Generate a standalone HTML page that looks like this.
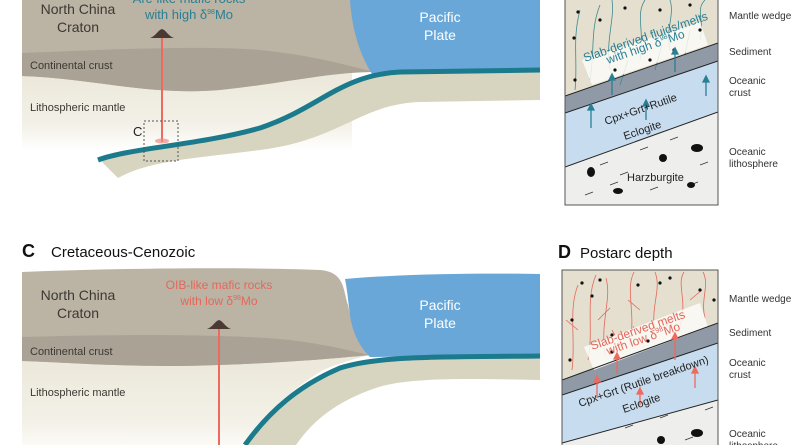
<!DOCTYPE html>
<html><head><meta charset="utf-8"><style>
html,body{margin:0;padding:0;background:#fff;}
svg{display:block;font-family:"Liberation Sans",Arial,sans-serif;}
</style></head><body>
<svg width="800" height="445" viewBox="0 0 800 445" xmlns="http://www.w3.org/2000/svg">
<defs>
<linearGradient id="lm" x1="0" y1="0" x2="0" y2="1">
<stop offset="0" stop-color="#ebe7d9"/><stop offset="0.7" stop-color="#f3f1e8"/><stop offset="1" stop-color="#fff"/>
</linearGradient>
<linearGradient id="lm2" gradientUnits="userSpaceOnUse" x1="0" y1="355" x2="0" y2="445">
<stop offset="0" stop-color="#ebe7d9"/><stop offset="0.75" stop-color="#f3f1e8"/><stop offset="1" stop-color="#fbfaf6"/>
</linearGradient>
<clipPath id="cb"><rect x="565" y="0" width="153" height="205"/></clipPath>
<clipPath id="cd"><rect x="562" y="270" width="156" height="175"/></clipPath>
</defs>

<!-- ===== TOP LEFT PANEL ===== -->
<rect x="22" y="70" width="330" height="80" fill="url(#lm)"/>
<path d="M22,0 L360,0 C355,30 365,55 375,72 C330,70 280,82 220,90 C150,96 90,78 22,76 Z" fill="#bbb3a3"/>
<path d="M22,53 C100,50 200,45 260,50 C320,56 355,68 375,72 C330,72 280,84 220,90 C150,96 90,78 22,76 Z" fill="#aaa294"/>
<path d="M350,0 L540,0 L540,72 L372,74 C360,55 352,30 350,0 Z" fill="#68a7d8"/>
<path d="M98,158 C130,148 200,145 260,128 C320,108 340,75 400,72 L540,70 L540,100 L420,102 C360,104 340,140 260,150 C200,158 150,160 118,178 Z" fill="#d7d4bf"/>
<path d="M98,160 C130,148 200,145 260,128 C320,108 340,75 400,72 L540,70" fill="none" stroke="#1b7a8b" stroke-width="5"/>
<line x1="162" y1="38" x2="162" y2="142" stroke="#ee6a5e" stroke-width="2"/>
<ellipse cx="162" cy="141" rx="7" ry="2.5" fill="#f08a80" opacity="0.7"/>
<path d="M150,38 C156,36 158,30 162,29 C166,30 168,36 174,38 Z" fill="#4a3a33"/>
<rect x="144" y="121" width="34" height="40" fill="none" stroke="#555" stroke-dasharray="2,2" stroke-width="1"/>
<text x="133" y="136" font-size="13" fill="#222">C</text>
<text x="78" y="14" font-size="14" fill="#3c3833" text-anchor="middle">North China</text>
<text x="78" y="32" font-size="14" fill="#3c3833" text-anchor="middle">Craton</text>
<text x="189" y="3" font-size="13" fill="#2a7f94" text-anchor="middle">Arc-like mafic rocks</text>
<text x="189" y="19" font-size="13" fill="#2a7f94" text-anchor="middle">with high δ<tspan font-size="7" dy="-5">98</tspan><tspan dy="5">Mo</tspan></text>
<text x="440" y="22" font-size="14" fill="#fff" text-anchor="middle">Pacific</text>
<text x="440" y="40" font-size="14" fill="#fff" text-anchor="middle">Plate</text>
<text x="30" y="69" font-size="11" fill="#3c3833">Continental crust</text>
<text x="30" y="111" font-size="11" fill="#3c3833">Lithospheric mantle</text>

<!-- ===== TOP RIGHT PANEL (B) ===== -->
<g clip-path="url(#cb)">
<rect x="565" y="0" width="153" height="205" fill="#eeeeec"/>
<polygon points="565,0 718,0 718,43 565,96" fill="#e4dfcf"/>
<polygon points="565,96 718,43 718,61 565,113" fill="#8f9aa6"/>
<polygon points="565,113 718,61 718,112 565,167" fill="#c8dcef"/>
<g stroke="#3f8a8f" stroke-width="0.8" fill="none">
<path d="M575,90 C578,60 572,40 580,10 M590,80 C595,50 590,30 600,5 M610,70 C605,40 615,20 612,0 M640,60 C645,30 635,15 645,0 M670,50 C665,30 675,15 670,0 M700,40 C705,20 695,10 705,0 M620,85 L628,60 M655,70 L662,45 M685,55 L690,30"/>
</g>
<polygon points="582,60 700,22 708,45 592,85" fill="#fbfbf7" opacity="0.85"/>
<g fill="#111"><circle cx="578" cy="12" r="1.6"/><circle cx="600" cy="20" r="1.6"/><circle cx="574" cy="38" r="1.6"/><circle cx="625" cy="8" r="1.6"/><circle cx="660" cy="10" r="1.6"/><circle cx="690" cy="5" r="1.6"/><circle cx="575" cy="80" r="1.6"/><circle cx="615" cy="70" r="1.6"/><circle cx="650" cy="60" r="1.6"/><circle cx="674" cy="50" r="1.6"/><circle cx="700" cy="30" r="1.6"/></g>
<g stroke="#222" stroke-width="1" fill="none"><line x1="565" y1="96" x2="718" y2="43"/><line x1="565" y1="113" x2="718" y2="61"/><line x1="565" y1="167" x2="718" y2="112"/></g>
<g stroke="#333" stroke-width="0.7"><line x1="600" y1="165" x2="608" y2="162"/><line x1="640" y1="150" x2="648" y2="147"/><line x1="670" y1="140" x2="678" y2="137"/><line x1="700" y1="165" x2="708" y2="162"/><line x1="610" y1="185" x2="618" y2="182"/><line x1="650" y1="190" x2="658" y2="187"/><line x1="585" y1="195" x2="593" y2="192"/><line x1="690" y1="185" x2="698" y2="182"/><line x1="620" y1="175" x2="628" y2="172"/></g>
<g fill="#111"><ellipse cx="591" cy="172" rx="4" ry="5"/><ellipse cx="663" cy="158" rx="4" ry="4"/><ellipse cx="697" cy="148" rx="6" ry="4"/><ellipse cx="618" cy="191" rx="5" ry="3"/><ellipse cx="691" cy="185" rx="4" ry="3"/></g>
<g stroke="#2a7f94" stroke-width="1.3" fill="#2a7f94">
<line x1="591" y1="128" x2="591" y2="108"/><polygon points="588,110 594,110 591,104"/>
<line x1="612" y1="95" x2="612" y2="78"/><polygon points="609,80 615,80 612,74"/>
<line x1="646" y1="120" x2="646" y2="104"/><polygon points="643,106 649,106 646,100"/>
<line x1="675" y1="72" x2="675" y2="52"/><polygon points="672,54 678,54 675,48"/>
<line x1="706" y1="96" x2="706" y2="80"/><polygon points="703,82 709,82 706,76"/>
</g>
</g>
<rect x="565" y="-1" width="153" height="206" fill="none" stroke="#555" stroke-width="1"/>
<text transform="translate(585,62) rotate(-19)" font-size="12" fill="#2a7f94">Slab-derived fluids/melts</text>
<text transform="translate(608,64) rotate(-19)" font-size="12" fill="#2a7f94">with high δ<tspan font-size="7" dy="-5">98</tspan><tspan dy="5">Mo</tspan></text>
<text transform="translate(606,125) rotate(-19)" font-size="11" fill="#222">Cpx+Grt+Rutile</text>
<text transform="translate(625,140) rotate(-19)" font-size="11" fill="#222">Eclogite</text>
<text x="627" y="181" font-size="11" fill="#222">Harzburgite</text>
<g font-size="10" fill="#333">
<text x="729" y="19">Mantle wedge</text><text x="729" y="55">Sediment</text>
<text x="729" y="84">Oceanic</text><text x="729" y="96">crust</text>
<text x="729" y="155">Oceanic</text><text x="729" y="167">lithosphere</text>
</g>

<!-- ===== BOTTOM LEFT PANEL (C) ===== -->
<text x="22" y="257" font-size="18" font-weight="bold" fill="#111">C</text>
<text x="51" y="257" font-size="15" fill="#111">Cretaceous-Cenozoic</text>
<path d="M22,355 L370,355 C350,360 330,366 320,372 C290,390 265,415 245,445 L22,445 Z" fill="url(#lm2)"/>
<path d="M22,272 C120,268 250,267 320,270 C345,272 343,290 348,305 C352,325 360,345 370,355 C320,360 250,365 180,366 C100,366 60,362 22,361 Z" fill="#bbb3a3"/>
<path d="M22,337 C120,334 230,334 290,340 C330,345 355,352 370,355 C320,360 250,365 180,366 C100,366 60,362 22,361 Z" fill="#aaa294"/>
<path d="M345,279 C400,274 480,273 540,274 L540,355 L370,357 C358,345 352,330 350,315 C348,300 347,288 345,279 Z" fill="#68a7d8"/>
<path d="M245,445 C270,410 300,385 340,368 C380,355 450,357 540,356 L540,380 C450,378 400,378 370,390 C330,405 310,425 296,445 Z" fill="#d7d4bf"/>
<path d="M245,445 C270,410 300,385 340,368 C380,355 450,357 540,356" fill="none" stroke="#1b7a8b" stroke-width="5"/>
<line x1="219" y1="329" x2="219" y2="445" stroke="#ee6a5e" stroke-width="2"/>
<path d="M207,329 C213,327 215,321 219,320 C223,321 225,327 231,329 Z" fill="#4a3a33"/>
<text x="78" y="300" font-size="14" fill="#3c3833" text-anchor="middle">North China</text>
<text x="78" y="318" font-size="14" fill="#3c3833" text-anchor="middle">Craton</text>
<text x="219" y="289" font-size="12" fill="#e4685c" text-anchor="middle">OIB-like mafic rocks</text>
<text x="219" y="305" font-size="12" fill="#e4685c" text-anchor="middle">with low δ<tspan font-size="7" dy="-5">98</tspan><tspan dy="5">Mo</tspan></text>
<text x="440" y="310" font-size="14" fill="#fff" text-anchor="middle">Pacific</text>
<text x="440" y="328" font-size="14" fill="#fff" text-anchor="middle">Plate</text>
<text x="30" y="355" font-size="11" fill="#3c3833">Continental crust</text>
<text x="30" y="396" font-size="11" fill="#3c3833">Lithospheric mantle</text>

<!-- ===== BOTTOM RIGHT PANEL (D) ===== -->
<text x="558" y="258" font-size="18" font-weight="bold" fill="#111">D</text>
<text x="580" y="258" font-size="15" fill="#111">Postarc depth</text>
<g clip-path="url(#cd)">
<rect x="562" y="270" width="156" height="175" fill="#eeeeec"/>
<polygon points="562,270 718,270 718,323 562,380" fill="#e4dfcf"/>
<polygon points="562,380 718,323 718,343 562,395" fill="#8f9aa6"/>
<polygon points="562,395 718,343 718,400 562,443" fill="#c8dcef"/>
<g stroke="#e4685c" stroke-width="0.8" fill="none">
<path d="M572,370 C576,340 568,310 578,285 M588,360 C594,330 585,300 596,275 M605,355 C600,320 612,300 606,278 M630,345 C636,310 625,290 634,272 M655,335 C650,305 662,290 655,272 M680,325 C688,300 676,285 684,272 M705,318 C700,300 710,285 703,272 M578,330 L566,320 M598,320 L610,308 M640,310 L628,300 M690,300 L702,290 M620,345 L612,330 M665,330 L672,315"/>
</g>
<polygon points="584,347 700,303 708,327 594,370" fill="#fbfbf7" opacity="0.85"/>
<g fill="#111"><circle cx="582" cy="283" r="1.6"/><circle cx="600" cy="280" r="1.6"/><circle cx="592" cy="296" r="1.6"/><circle cx="638" cy="285" r="1.6"/><circle cx="660" cy="283" r="1.6"/><circle cx="670" cy="278" r="1.6"/><circle cx="700" cy="290" r="1.6"/><circle cx="714" cy="300" r="1.6"/><circle cx="572" cy="320" r="1.6"/><circle cx="570" cy="360" r="1.6"/><circle cx="612" cy="335" r="1.6"/><circle cx="648" cy="341" r="1.6"/><circle cx="612" cy="352" r="1.6"/></g>
<g stroke="#222" stroke-width="1" fill="none"><line x1="562" y1="380" x2="718" y2="323"/><line x1="562" y1="395" x2="718" y2="343"/><line x1="562" y1="443" x2="718" y2="400"/></g>
<g stroke="#333" stroke-width="0.7"><line x1="625" y1="428" x2="633" y2="425"/><line x1="660" y1="418" x2="668" y2="415"/><line x1="705" y1="410" x2="713" y2="407"/><line x1="685" y1="440" x2="693" y2="437"/></g>
<g fill="#111"><ellipse cx="697" cy="433" rx="6" ry="4"/><ellipse cx="661" cy="440" rx="4" ry="4"/></g>
<g stroke="#ee6a5e" stroke-width="1.3" fill="#ee6a5e">
<line x1="597" y1="398" x2="597" y2="380"/><polygon points="594,382 600,382 597,376"/>
<line x1="617" y1="374" x2="617" y2="357"/><polygon points="614,359 620,359 617,353"/>
<line x1="640" y1="405" x2="640" y2="392"/><polygon points="637,394 643,394 640,388"/>
<line x1="675" y1="360" x2="675" y2="337"/><polygon points="672,339 678,339 675,333"/>
<line x1="695" y1="388" x2="695" y2="371"/><polygon points="692,373 698,373 695,367"/>
</g>
</g>
<rect x="562" y="270" width="156" height="180" fill="none" stroke="#555" stroke-width="1"/>
<text transform="translate(592,350) rotate(-19)" font-size="12" fill="#e4685c">Slab-derived melts</text>
<text transform="translate(608,355) rotate(-19)" font-size="12" fill="#e4685c">with low δ<tspan font-size="7" dy="-5">98</tspan><tspan dy="5">Mo</tspan></text>
<text transform="translate(580,407) rotate(-19)" font-size="11" fill="#222">Cpx+Grt (Rutile breakdown)</text>
<text transform="translate(624,413) rotate(-19)" font-size="11" fill="#222">Eclogite</text>
<g font-size="10" fill="#333">
<text x="729" y="302">Mantle wedge</text><text x="729" y="336">Sediment</text>
<text x="729" y="366">Oceanic</text><text x="729" y="378">crust</text>
<text x="729" y="437">Oceanic</text><text x="729" y="449">lithosphere</text>
</g>
</svg>
</body></html>
